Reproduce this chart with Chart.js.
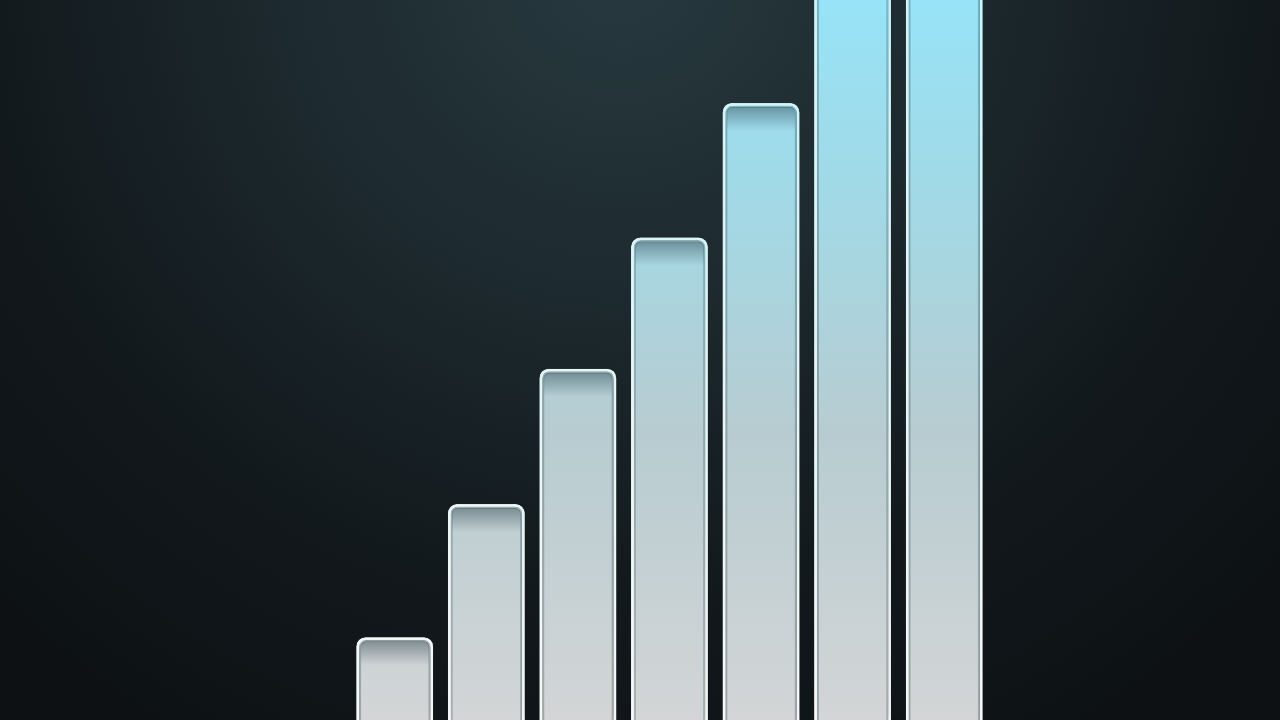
<!DOCTYPE html>
<html>
<head>
<meta charset="utf-8">
<script src="https://cdn.jsdelivr.net/npm/chart.js@4.4.1/dist/chart.umd.min.js"></script>
<style>
    html, body { margin: 0; padding: 0; background: #101518; }
    #wrap { width: 1280px; height: 720px; position: relative; }
</style>
</head>
<body>
<div id="wrap"><canvas id="growth"></canvas></div>
<script>
// bars (axis runs 0..100, the last two run past the top)
var barLabels = ["1", "2", "3", "4", "5", "6", "7"];
var barValues = [11.5, 30, 48.8, 67, 85.7, 104, 123];

function barFill(ctx) {
    var area = ctx.chart.chartArea;
    if (!area) {
        return "#c0cbce";
    }
    var g = ctx.chart.ctx.createLinearGradient(0, 0, 0, 720);
    g.addColorStop(0, "#97e3f7");
    g.addColorStop(0.3, "#a3d8e4");
    g.addColorStop(0.6, "#b7ccd1");
    g.addColorStop(1, "#d3d5d6");
    return g;
}

function barRim(ctx) {
    var area = ctx.chart.chartArea;
    if (!area) {
        return "#e8f4f6";
    }
    var g = ctx.chart.ctx.createLinearGradient(0, 0, 0, 720);
    g.addColorStop(0, "#c8f7fe");
    g.addColorStop(0.5, "#e4f6f8");
    g.addColorStop(1, "#f6f7f7");
    return g;
}

// dark radial backdrop, lighter teal near the top middle
var backdrop = {
    id: "backdrop",
    beforeDraw: function (chart) {
        var c = chart.ctx;
        c.save();
        var g = c.createRadialGradient(620, -40, 20, 620, -40, 900);
        g.addColorStop(0, "#27393f");
        g.addColorStop(0.35, "#1d2a2f");
        g.addColorStop(0.7, "#12191c");
        g.addColorStop(1, "#0d1114");
        c.fillStyle = g;
        c.fillRect(0, 0, chart.width, chart.height);
        c.restore();
    }
};

// soft drop shadow to the right, then bright rim and inset shade on top
var barShadow = {
    id: "barShadow",
    beforeDatasetsDraw: function (chart) {
        var c = chart.ctx;
        c.save();
        c.shadowColor = "rgba(0,0,0,0.65)";
        c.shadowBlur = 10;
        c.shadowOffsetX = 4;
        c.shadowOffsetY = 0;
    },
    afterDatasetsDraw: function (chart) {
        var c = chart.ctx;
        c.restore();
        var meta = chart.getDatasetMeta(0);
        meta.data.forEach(function (bar) {
            var p = bar.getProps(["x", "y", "width"], true);
            var top = Math.max(p.y, -20);
            var left = p.x - p.width / 2;
            var w = p.width;

            // inner dark line just inside the rim
            c.save();
            c.strokeStyle = "rgba(60,85,95,0.35)";
            c.lineWidth = 1.5;
            c.beginPath();
            c.roundRect(left + 4, top + 4, w - 8, 760 - top, 6);
            c.stroke();
            c.restore();

            // bright rim
            c.save();
            c.strokeStyle = barRim({ chart: chart });
            c.lineWidth = 2.5;
            c.beginPath();
            c.roundRect(left + 1.5, top + 1.5, w - 3, 760 - top, 8);
            c.stroke();
            c.restore();

            if (p.y < 2) {
                return;
            }
            // inset shade under the top rim
            var it = p.y + 4;
            c.save();
            c.beginPath();
            c.roundRect(left + 4, it, w - 8, 40, 6);
            c.clip();
            var g = c.createLinearGradient(0, it, 0, it + 24);
            g.addColorStop(0, "rgba(30,50,60,0.42)");
            g.addColorStop(1, "rgba(30,50,60,0)");
            c.fillStyle = g;
            c.fillRect(left + 4, it, w - 8, 40);
            c.restore();
        });
    }
};

const ctx = document.getElementById("growth").getContext("2d");
var growthChart = new Chart(ctx, {
    type: "bar",
    data: {
        labels: barLabels,
        datasets: [{
            data: barValues,
            backgroundColor: barFill,
            borderColor: barRim,
            borderWidth: 3,
            borderRadius: { topLeft: 9, topRight: 9, bottomLeft: 0, bottomRight: 0 },
            borderSkipped: "bottom",
            categoryPercentage: 1,
            barPercentage: 0.84
        }]
    },
    options: {
        responsive: true,
        maintainAspectRatio: false,
        animation: false,
        layout: {
            padding: { left: 349, right: 290, top: 0, bottom: 0 }
        },
        scales: {
            x: { display: false },
            y: { display: false, min: 0, max: 100 }
        },
        plugins: {
            legend: { display: false },
            tooltip: { enabled: false }
        }
    },
    plugins: [backdrop, barShadow]
});
</script>
</body>
</html>
